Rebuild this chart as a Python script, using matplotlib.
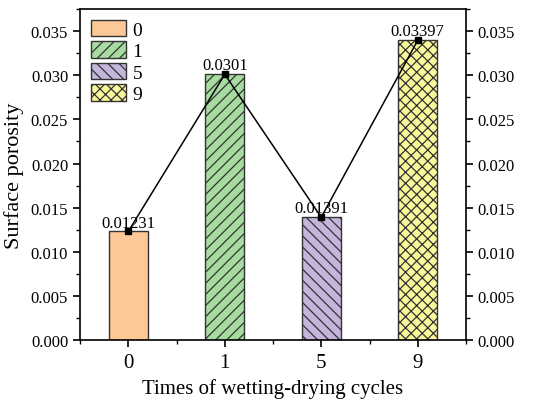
import matplotlib
matplotlib.use("Agg")
import matplotlib.pyplot as plt
from matplotlib.ticker import MultipleLocator
from matplotlib.patches import Patch

categories = ["0", "1", "5", "9"]
values = [0.01231, 0.0301, 0.01391, 0.03397]
labels = ["0.01231", "0.0301", "0.01391", "0.03397"]
colors = ["#FDC897", "#A7DCA1", "#C4B5DC", "#FBF79B"]
hatches = ["", "///", "\\\\\\", "xxx"]

plt.rcParams['font.family'] = ['Liberation Serif', 'DejaVu Serif']
plt.rcParams['hatch.linewidth'] = 0.9
plt.rcParams['hatch.color'] = '#222222'

fig = plt.figure(figsize=(5.5, 4.1), dpi=100)
ax = fig.add_axes([0.1455, 0.168, 0.7018, 0.8076])
x = list(range(len(categories)))
for i in x:
    ax.bar(i, values[i], width=0.4, color=colors[i], edgecolor='#333333',
           linewidth=1.0, hatch=hatches[i], zorder=2)
ax.plot(x, values, color='black', linewidth=1.1, marker='s', markersize=5, zorder=3)
for i in x:
    ax.text(i, values[i] + 0.0001, labels[i], ha='center', va='bottom', fontsize=12, zorder=4)

ax.set_xlim(-0.5, 3.5)
ax.set_ylim(0, 0.0375)
ax.set_xticks(x)
ax.set_xticklabels(categories)
ax.xaxis.set_minor_locator(MultipleLocator(0.5))
ax.yaxis.set_major_locator(MultipleLocator(0.005))
ax.yaxis.set_minor_locator(MultipleLocator(0.0025))
ax.yaxis.set_major_formatter(matplotlib.ticker.FormatStrFormatter('%.3f'))
ax.tick_params(axis='both', which='major', direction='out', length=5, width=1.2, labelsize=12)
ax.tick_params(axis='both', which='minor', direction='out', length=3, width=1.0)
ax.tick_params(axis='y', which='both', right=True, labelright=True)
ax.tick_params(axis='x', which='major', labelsize=15, pad=4)
for s in ax.spines.values():
    s.set_linewidth(1.2)
ax.set_ylabel("Surface porosity", fontsize=16, labelpad=5)
ax.set_xlabel("Times of wetting-drying cycles", fontsize=15, labelpad=5)

handles = [Patch(facecolor=colors[i], edgecolor='#333333', hatch=hatches[i], label=categories[i]) for i in x]
ax.legend(handles=handles, loc='upper left', frameon=False, fontsize=14,
          handlelength=1.8, handleheight=0.95, labelspacing=0.12, handletextpad=0.35,
          borderaxespad=0.25, borderpad=0.3)
fig.savefig("out.png", dpi=100)
